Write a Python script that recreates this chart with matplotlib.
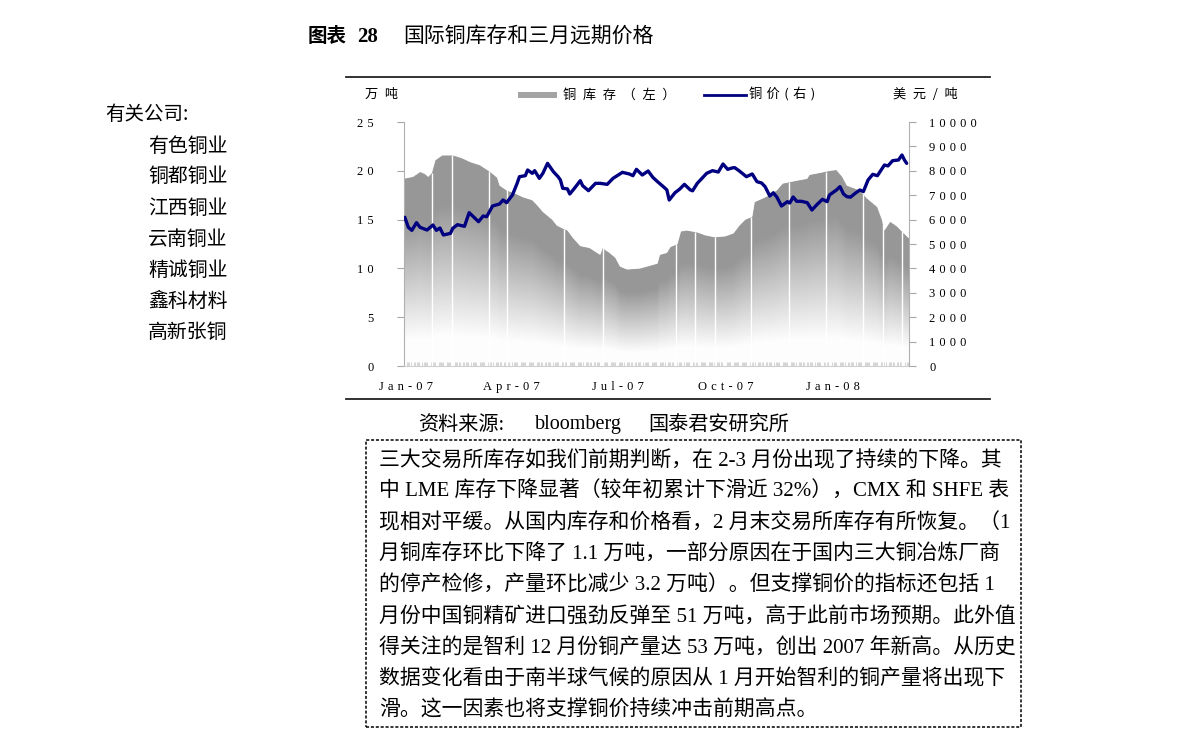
import numpy as np
import matplotlib
matplotlib.use('Agg')
import matplotlib.pyplot as plt
import matplotlib.dates as mdates
from matplotlib.patches import Rectangle
from matplotlib.lines import Line2D

plt.rcParams['font.family'] = ['Noto Sans CJK SC', 'DejaVu Sans']

# ---------------- data ----------------
start_date = '2007-01-01'

# copper 3M price (USD/t), days since 2007-01-01
price_day = [-1, 2, 5, 9, 12, 18, 23, 26, 29, 32, 38, 40, 44, 50, 54, 57, 62, 66, 69, 74,
             80, 83, 86, 91, 95, 97, 102, 104, 108, 110, 114, 117, 121, 126, 130, 132, 134, 138, 140, 144,
             149, 151, 156, 162, 166, 172, 177, 185, 191, 194, 197, 202, 207, 211, 215, 220, 223, 225, 230, 234,
             238, 243, 245, 249, 257, 262, 267, 271, 275, 279, 281, 285, 291, 296, 300, 304, 307, 311, 314, 317,
             321, 326, 328, 331, 334, 338, 343, 347, 351, 356, 360, 362, 368, 371, 374, 377, 380, 384, 388, 391,
             395, 399, 403, 409, 412, 416, 421, 424, 426, 428]
price_usd = [6094, 5684, 5560, 5874, 5684, 5574, 5779, 5560, 5656, 5369, 5437, 5643, 5792, 5724, 6284, 6148, 5915, 6148, 6120, 6557,
             6640, 6803, 6694, 7008, 7486, 7759, 7800, 8033, 7896, 8005, 7691, 7896, 8306, 7964, 7759, 7623, 7282, 7260, 7050, 7282,
             7596, 7390, 7186, 7486, 7486, 7445, 7691, 7937, 7869, 7800, 8060, 7828, 7992, 7732, 7555, 7350, 7218, 6803, 7104, 7250,
             7445, 7218, 7180, 7486, 7896, 8005, 7950, 8279, 8060, 8120, 8130, 7992, 7759, 7870, 7555, 7500, 7350, 6967, 7100, 6926,
             6557, 6735, 6680, 6926, 6750, 6750, 6694, 6393, 6600, 6831, 6735, 7008, 7213, 7350, 7050, 6940, 6920, 7077, 7213, 7150,
             7623, 7855, 7800, 8238, 8200, 8415, 8443, 8648, 8450, 8306]

# copper inventory (10k t), days since 2007-01-01
stock_day = [-2, 6, 12, 16, 19, 22, 25, 31, 40, 48, 55, 63, 72, 78, 80, 86, 93, 100, 108, 112,
             117, 125, 129, 134, 138, 143, 149, 157, 166, 168, 174, 179, 183, 189, 200, 206, 215, 217, 223, 226,
             232, 235, 240, 249, 256, 264, 273, 280, 285, 290, 296, 298, 309, 317, 322, 334, 343, 345, 354, 362,
             368, 373, 377, 388, 394, 403, 407, 409, 414, 420, 424, 430]
stock_wt = [19.2, 19.4, 19.9, 19.7, 19.4, 19.8, 21.1, 21.6, 21.6, 21.3, 20.9, 20.6, 19.9, 19.3, 18.5, 18.0, 17.7, 17.3, 17.0, 16.5,
            15.8, 15.0, 14.4, 14.1, 13.9, 13.1, 12.3, 12.1, 11.4, 12.1, 11.6, 11.1, 10.2, 9.9, 10.0, 10.2, 10.5, 11.4, 11.6, 12.2,
            12.5, 13.8, 13.9, 13.7, 13.4, 13.2, 13.3, 13.6, 14.4, 15.0, 15.3, 16.8, 17.4, 18.0, 18.7, 19.0, 19.2, 19.6, 19.8, 20.0,
            20.1, 19.4, 18.5, 18.0, 17.2, 16.3, 15.0, 13.9, 14.8, 14.3, 13.8, 13.1]
# days with missing inventory bars (thin white gaps)
stock_gap_day = [22, 39, 71, 86, 135, 168, 231, 247, 264, 295, 327, 359, 391, 408, 424]

left_ticks = [0, 5, 10, 15, 20, 25]
right_ticks = [0, 1000, 2000, 3000, 4000, 5000, 6000, 7000, 8000, 9000, 10000]
x_tick_days = [0, 90, 181, 273, 365]
x_tick_labels = ['Jan-07', 'Apr-07', 'Jul-07', 'Oct-07', 'Jan-08']

title_prefix = '图表'
title_num = '28'
title_main = '国际铜库存和三月远期价格'
left_unit = '万吨'
right_unit = '美元/吨'
legend_stock = '铜库存（左）'
legend_price = '铜价(右)'
source_label = '资料来源:'
source_vendor = 'bloomberg'
source_house = '国泰君安研究所'
company_header = '有关公司:'
companies = ['有色铜业', '铜都铜业', '江西铜业', '云南铜业', '精诚铜业', '鑫科材料', '高新张铜']
body_lines = [
    '三大交易所库存如我们前期判断，在 2-3 月份出现了持续的下降。其',
    '中 LME 库存下降显著（较年初累计下滑近 32%），CMX 和 SHFE 表',
    '现相对平缓。从国内库存和价格看，2 月末交易所库存有所恢复。（1',
    '月铜库存环比下降了 1.1 万吨，一部分原因在于国内三大铜冶炼厂商',
    '的停产检修，产量环比减少 3.2 万吨）。但支撑铜价的指标还包括 1',
    '月份中国铜精矿进口强劲反弹至 51 万吨，高于此前市场预期。此外值',
    '得关注的是智利 12 月份铜产量达 53 万吨，创出 2007 年新高。从历史',
    '数据变化看由于南半球气候的原因从 1 月开始智利的铜产量将出现下',
    '滑。这一因素也将支撑铜价持续冲击前期高点。',
]

# ---------------- helpers ----------------
W, H = 1190, 740
fig = plt.figure(figsize=(W / 100, H / 100), dpi=100)


def fx(x):
    return x / W


def fy(y):
    return 1 - y / H


base_num = mdates.date2num(np.datetime64(start_date))


def to_num(days):
    return base_num + np.asarray(days, dtype=float)


SP = '\u2004'
TICK_FONT = ['Liberation Serif', 'DejaVu Serif']
CJK = ['Noto Sans CJK SC', 'DejaVu Sans']
MIXED = ['Liberation Serif', 'Noto Sans CJK SC', 'DejaVu Sans']


def spaced(s, sep=SP):
    return sep.join(list(str(s)))


# ---------------- axes ----------------
ax = fig.add_axes([fx(404), fy(366), fx(909) - fx(404), (366 - 122) / H])
x0, x1 = to_num(-1.7), to_num(430)
stock_x = to_num(stock_day)
stock_v = np.asarray(stock_wt)

# per-column gradient fill (dark at top of each bar, fading to white at bottom)
xs = np.linspace(x0, x1, 1400)
vs = np.interp(xs, stock_x, stock_v)
ys = np.linspace(0, 25, 900)
T = ys[:, None] / vs[None, :]
s = np.clip((T - 0.14) / (0.76 - 0.14), 0, 1)
g = 0.995 - (0.995 - 0.595) * s
rgba = np.ones((len(ys), len(xs), 4))
rgba[..., 0] = g
rgba[..., 1] = g
rgba[..., 2] = g
rgba[..., 3] = (T <= 1.0).astype(float)
im = ax.imshow(rgba, extent=[x0, x1, 0, 25], origin='lower', aspect='auto',
               interpolation='bilinear', zorder=1)
poly = ax.fill_between(stock_x, 0, stock_v, facecolor='none', edgecolor='none', linewidth=0, zorder=1)
im.set_clip_path(poly.get_paths()[0], transform=ax.transData)

gap_x = to_num(stock_gap_day)
ax.vlines(gap_x, 0, np.interp(gap_x, stock_x, stock_v), colors='white', linewidth=1.0, zorder=2)

ax.set_xlim(x0, x1)
ax.set_ylim(0, 25)
ax.set_yticks(left_ticks)
ax.set_yticklabels([spaced(t) for t in left_ticks], fontfamily=TICK_FONT, fontsize=9)
ax.tick_params(axis='y', direction='out', length=5, width=0.8, color='#a8a8a8', pad=17)
ax.set_xticks(to_num(x_tick_days))
ax.set_xticklabels([spaced(t) for t in x_tick_labels], fontfamily=TICK_FONT, fontsize=9)
ax.tick_params(axis='x', which='major', length=0, pad=11)
ax.xaxis.set_minor_locator(mdates.WeekdayLocator(byweekday=range(5)))
ax.tick_params(axis='x', which='minor', direction='in', length=3, width=0.4, color='#b8b8b8')
ax.spines['top'].set_visible(False)
ax.spines['right'].set_visible(False)
ax.spines['left'].set_color('#b0b0b0')
ax.spines['bottom'].set_color('#d0d0d0')

ax2 = ax.twinx()
ax2.plot(to_num(price_day), price_usd, color='#000080', lw=2.4,
         solid_joinstyle='round', solid_capstyle='round', zorder=3)
ax2.set_xlim(x0, x1)
ax2.set_ylim(0, 10000)
ax2.set_yticks(right_ticks)
ax2.set_yticklabels([spaced(t) for t in right_ticks], fontfamily=TICK_FONT, fontsize=9)
ax2.tick_params(axis='y', direction='out', length=5, width=0.8, color='#a8a8a8', pad=9.5)
for sp in ['top', 'left', 'bottom']:
    ax2.spines[sp].set_visible(False)
ax2.spines['right'].set_color('#b0b0b0')

# ---------------- header / legend ----------------
fig.add_artist(Line2D([fx(346), fx(990)], [fy(77), fy(77)], color='#222222', lw=1.3,
                      transform=fig.transFigure))
fig.add_artist(Line2D([fx(346), fx(990)], [fy(399), fy(399)], color='#222222', lw=1.3,
                      transform=fig.transFigure))

fig.text(fx(365), fy(94), spaced(left_unit, '\u2002'), family=CJK, fontsize=9.5, va='center', ha='left')
fig.text(fx(893), fy(94), spaced(right_unit, '\u2002'), family=CJK, fontsize=9.5, va='center', ha='left')

fig.add_artist(Rectangle((fx(518), fy(98)), fx(557) - fx(518), 6 / H, transform=fig.transFigure,
                         facecolor='#a4a4a4', edgecolor='none'))
fig.text(fx(563), fy(95), spaced(legend_stock, '\u2002'), family=CJK, fontsize=9.5, va='center', ha='left')
fig.add_artist(Line2D([fx(704), fx(746)], [fy(95), fy(95)], color='#000080', lw=2.0,
                      transform=fig.transFigure))
fig.text(fx(749), fy(95), spaced(legend_price, SP), family=CJK, fontsize=9.5, va='center', ha='left')

# ---------------- title ----------------
fig.text(fx(308), fy(37), title_prefix, family=CJK, fontsize=14, weight='bold', va='center', ha='left')
fig.text(fx(357), fy(37), title_num, family=TICK_FONT, fontsize=15, weight='bold', va='center', ha='left')
fig.text(fx(403), fy(37), title_main, family=CJK, fontsize=15, va='center', ha='left')

# ---------------- company list ----------------
fig.text(fx(105), fy(115), company_header, family=CJK, fontsize=14, va='center', ha='left')
for i, name in enumerate(companies):
    fig.text(fx(148), fy(146 + 31 * i), name, family=CJK, fontsize=14.3, va='center', ha='left')

# ---------------- source ----------------
fig.text(fx(418), fy(425), source_label, family=MIXED, fontsize=14.5, va='center', ha='left')
fig.text(fx(535), fy(425), source_vendor, family=MIXED, fontsize=14.5, va='center', ha='left')
fig.text(fx(648), fy(425), source_house, family=MIXED, fontsize=14.5, va='center', ha='left')

# ---------------- text box ----------------
fig.add_artist(Rectangle((fx(366), fy(727)), fx(1021) - fx(366), (727 - 440) / H,
                         transform=fig.transFigure, fill=False, edgecolor='black',
                         lw=1.1, linestyle=(0, (2, 1.2))))
for i, line in enumerate(body_lines):
    fig.text(fx(379), fy(461 + 31.2 * i), line, family=MIXED, fontsize=15, va='center', ha='left')

fig.savefig('out.png', dpi=100)
